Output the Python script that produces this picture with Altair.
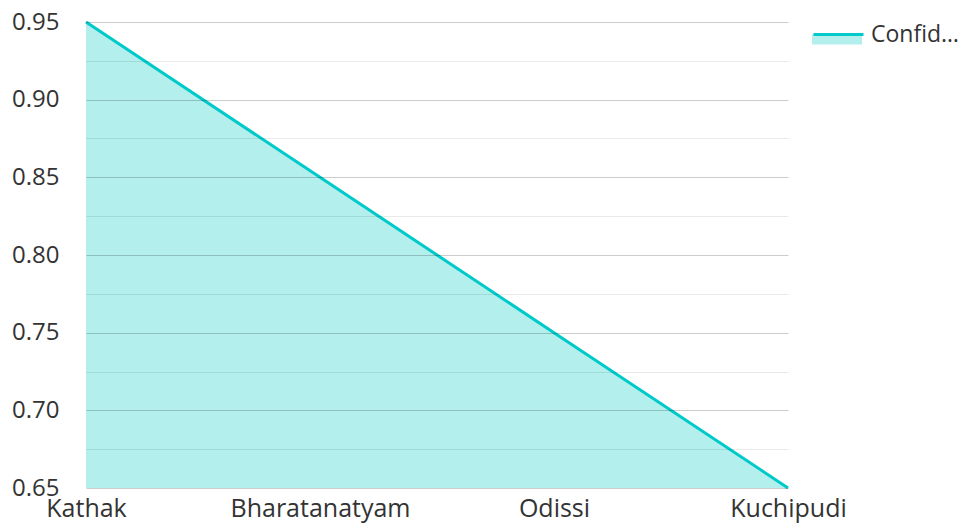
import altair as alt
import pandas as pd

categories = ["Kathak", "Bharatanatyam", "Odissi", "Kuchipudi"]
values = [0.95, 0.85, 0.75, 0.65]
series_name = "Confidence"
y_ticks = [0.65, 0.675, 0.70, 0.725, 0.75, 0.775, 0.80, 0.825, 0.85, 0.875, 0.90, 0.925, 0.95]

df = pd.DataFrame({"dance": categories, "value": values, "series": [series_name] * len(categories)})

FONT = "Open Sans"
FS = 25
Y_FS = 24
LEG_FS = 23
LINE_COLOR = "#00c9c9"
FILL_COLOR = "#b2efed"
MAJOR = "round(datum.value * 1000) % 50 === 0"

x_enc = alt.X(
    "dance:N",
    sort=categories,
    scale=alt.Scale(type="point", padding=0),
    axis=alt.Axis(title=None, labelAngle=0, ticks=False, domain=False, grid=False,
                  labelFont=FONT, labelFontSize=FS, labelColor="#333333", labelPadding=8),
)
y_enc = alt.Y(
    "value:Q",
    scale=alt.Scale(domain=[0.65, 0.95], nice=False, zero=False),
    axis=alt.Axis(title=None, values=y_ticks, ticks=False, domain=False, zindex=1,
                  labelExpr=f"{MAJOR} ? format(datum.value, '.2f') : ''",
                  labelOverlap=False, labelFont=FONT, labelFontSize=Y_FS,
                  labelColor="#333333", labelPadding=27,
                  gridColor="#000000",
                  gridOpacity={"condition": {"test": MAJOR, "value": 0.2}, "value": 0.085}),
)

LX, LY = 726, -12

area = alt.Chart(df).mark_area(interpolate="linear", clip=True).encode(
    x=x_enc, y=y_enc,
    color=alt.Color("series:N", scale=alt.Scale(range=[FILL_COLOR]),
                    legend=alt.Legend(title=None, orient="none", legendX=LX, legendY=LY,
                                      symbolType="M-1,-0.02H1V0.38H-1Z", symbolSize=2500,
                                      symbolStrokeWidth=0, symbolOpacity=1,
                                      labelFont=FONT, labelFontSize=LEG_FS, labelColor="#333333",
                                      labelLimit=92, labelOffset=9)),
)
line = alt.Chart(df).mark_line(strokeWidth=3, interpolate="linear").encode(
    x=x_enc, y=y_enc,
    stroke=alt.Stroke("series:N", scale=alt.Scale(range=[LINE_COLOR]),
                      legend=alt.Legend(title=None, orient="none", legendX=LX, legendY=LY,
                                        symbolType="M-1,-0.08H1", symbolSize=2500,
                                        symbolStrokeWidth=3, labelExpr="''",
                                        labelFont=FONT, labelFontSize=LEG_FS,
                                        labelLimit=92, labelOffset=9)),
)

chart = (area + line).resolve_legend(color="independent", stroke="independent").properties(
    width=702, height=466,
    autosize=alt.AutoSizeParams(type="none"),
    padding={"left": 78, "top": 14, "right": 173, "bottom": 35},
    background="white",
).configure_view(stroke=None)

chart.save("out.html", embed_options={"renderer": "svg", "actions": False})
